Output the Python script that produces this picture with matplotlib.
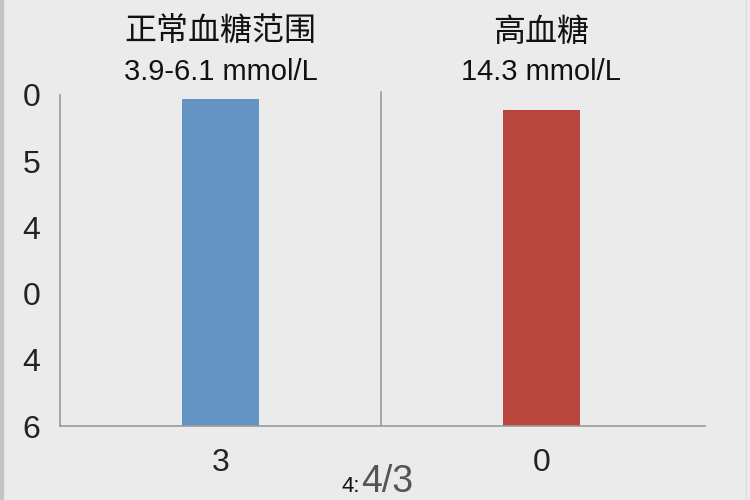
import matplotlib
matplotlib.use("Agg")
import matplotlib.pyplot as plt
from matplotlib.lines import Line2D

plt.rcParams['font.family'] = ['Liberation Sans', 'Noto Sans CJK SC', 'DejaVu Sans']

# data
groups = ['正常血糖范围', '高血糖']
units = ['3.9-6.1 mmol/L', '14.3 mmol/L']
heights = [14.8, 14.3]
colors = ['#6494c4', '#b8463f']
x_labels = ['3', '0']
y_ticks = [0, 3, 6, 9, 12, 15]
y_labels = ['6', '4', '0', '4', '5', '0']

fig = plt.figure(figsize=(7.5, 5), dpi=100, facecolor='#ebebeb')
ax = fig.add_axes([0.08, 0.148, 0.86, 0.662])
ax.set_facecolor('#ebebeb')

xs = range(len(heights))
ax.bar(xs, heights, width=0.24, color=colors)
ax.set_xlim(-0.5, 1.51)
ax.set_ylim(0, 15)
ax.axvline(0.5, ymax=1.01, color='#9a9a9a', lw=1.2, clip_on=False)

for s in ['top', 'right']:
    ax.spines[s].set_visible(False)
for s in ['left', 'bottom']:
    ax.spines[s].set_color('#9a9a9a')
    ax.spines[s].set_linewidth(1.2)

ax.set_xticks(list(xs))
ax.set_xticklabels(x_labels, fontsize=23, color='#222222')
ax.set_yticks(y_ticks)
ax.set_yticklabels(y_labels, fontsize=23, color='#222222')
ax.tick_params(axis='x', length=0, pad=16)
ax.tick_params(axis='y', length=0, pad=14)

for x, g, u in zip(xs, groups, units):
    ax.text(x, 1.07, u, transform=ax.get_xaxis_transform(), ha='center',
            va='center', fontsize=21, color='#111111')
    ax.text(x, 1.19, g, transform=ax.get_xaxis_transform(), ha='center',
            va='center', fontsize=23, color='#111111',
            family=['Noto Sans CJK SC', 'DejaVu Sans'])

fig.text(0.48, 0.026, '4:', ha='right', va='center', fontsize=16, color='#111111')
fig.text(0.481, 0.036, '4/3', ha='left', va='center', fontsize=27, color='#555555')

fig.add_artist(Line2D([0.002, 0.002], [0, 1], transform=fig.transFigure, color='#c4c4c4', lw=3))
fig.add_artist(Line2D([0.994, 0.994], [0, 1], transform=fig.transFigure, color='#dcdcdc', lw=1))

fig.savefig('out.png', dpi=100, facecolor=fig.get_facecolor())
